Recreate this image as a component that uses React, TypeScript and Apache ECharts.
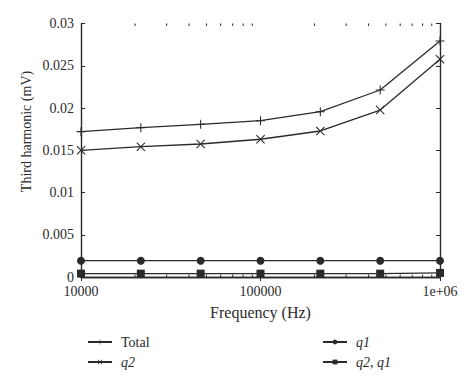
import React, { useEffect, useRef } from "react";
import * as echarts from "echarts";

const frequencies = [10000, 21544, 46416, 100000, 215443, 464159, 1000000];
const totalValues = [0.0172, 0.01767, 0.01807, 0.0185, 0.01956, 0.02213, 0.02793];
const q2Values = [0.01499, 0.01542, 0.01574, 0.0163, 0.01728, 0.01976, 0.02576];
const q1Values = [0.00193, 0.00193, 0.00193, 0.00193, 0.00193, 0.00193, 0.00193];
const q2q1Values = [0.0004, 0.0004, 0.0004, 0.0004, 0.0004, 0.0004, 0.00048];
const minorTickValues = [
  20000, 30000, 40000, 50000, 60000, 70000, 80000, 90000,
  200000, 300000, 400000, 500000, 600000, 700000, 800000, 900000,
];
const yTicks = { min: 0, max: 0.03, interval: 0.005 };
const xRange = { min: 10000, max: 1000000 };

const FONT = "'Liberation Serif', 'DejaVu Serif', serif";
const INK = "#2a2a2a";

const plusPath =
  "path://M4.4,0H5.6V4.4H10V5.6H5.6V10H4.4V5.6H0V4.4H4.4Z";
const crossPath =
  "path://M0,0.85L0.85,0L5,4.15L9.15,0L10,0.85L5.85,5L10,9.15L9.15,10L5,5.85L0.85,10L0,9.15L4.15,5Z";

const pair = (vals: number[]) => frequencies.map((f, i) => [f, vals[i]]);

export default function App() {
  const ref = useRef<HTMLDivElement>(null);
  useEffect(() => {
    if (!ref.current) return;
    const chart = echarts.init(ref.current, undefined, { renderer: "svg" });
    const lineSeries = (name: string, vals: number[], symbol: string, size: number) => ({
      name,
      type: "line",
      data: pair(vals),
      symbol,
      symbolSize: size,
      showAllSymbol: true,
      lineStyle: { color: INK, width: 1.3 },
      itemStyle: { color: INK },
      xAxisIndex: 0,
      yAxisIndex: 0,
      z: 3,
    });
    const legendBase = (name: string, left: number, top: number, italic: boolean) => ({
      data: [name],
      left,
      top,
      orient: "horizontal",
      itemWidth: 24,
      itemHeight: 6,
      selectedMode: false,
      textStyle: {
        fontFamily: FONT,
        fontSize: 14,
        color: INK,
        fontStyle: italic ? "italic" : "normal",
        padding: [0, 0, 0, 4],
      },
    });
    const axisLine = { show: true, lineStyle: { color: INK, width: 1.4 } };
    const tick = { show: true, inside: true, length: 4, lineStyle: { color: INK, width: 1 } };
    chart.setOption({
      animation: false,
      backgroundColor: "#fff",
      grid: { left: 81, right: 34, top: 23.5, bottom: 107, containLabel: false },
      xAxis: [
        {
          type: "log",
          logBase: 10,
          min: xRange.min,
          max: xRange.max,
          position: "bottom",
          axisLine,
          axisTick: tick,
          splitLine: { show: false },
          axisLabel: {
            margin: 7,
            fontFamily: FONT,
            fontSize: 14,
            color: INK,
            formatter: (v: number) => {
              const r = Math.round(v);
              return r === 1000000 ? "1e+06" : String(r);
            },
          },
          name: "Frequency (Hz)",
          nameLocation: "middle",
          nameGap: 27,
          nameTextStyle: { fontFamily: FONT, fontSize: 16, color: INK },
        },
        {
          type: "log",
          logBase: 10,
          min: xRange.min,
          max: xRange.max,
          position: "top",
          axisLine,
          axisTick: tick,
          splitLine: { show: false },
          axisLabel: { show: false },
        },
      ],
      yAxis: [
        {
          type: "value",
          min: yTicks.min,
          max: yTicks.max,
          interval: yTicks.interval,
          position: "left",
          axisLine,
          axisTick: tick,
          splitLine: { show: false },
          axisLabel: { margin: 7, fontFamily: FONT, fontSize: 14, color: INK },
        },
        {
          type: "value",
          min: yTicks.min,
          max: yTicks.max,
          interval: yTicks.interval,
          position: "right",
          axisLine,
          axisTick: tick,
          splitLine: { show: false },
          axisLabel: { show: false },
        },
      ],
      legend: [
        legendBase("Total", 82, 330, false),
        legendBase("q2", 82, 350, true),
        legendBase("q1", 317, 330, true),
        legendBase("q2, q1", 317, 350, true),
      ],
      graphic: [
        {
          type: "text",
          x: 26,
          y: 131.5,
          rotation: Math.PI / 2,
          style: {
            text: "Third harmonic (mV)",
            fontFamily: FONT,
            fontSize: 14,
            fill: INK,
            align: "center",
            verticalAlign: "middle",
          },
        },
      ],
      series: [
        lineSeries("Total", totalValues, plusPath, 9),
        lineSeries("q2", q2Values, crossPath, 9),
        lineSeries("q1", q1Values, "circle", 8),
        lineSeries("q2, q1", q2q1Values, "rect", 8),
        {
          name: "minor ticks",
          type: "custom",
          xAxisIndex: 0,
          yAxisIndex: 0,
          silent: true,
          data: minorTickValues.map((v) => [v]),
          renderItem: (params: any, api: any) => {
            const v = api.value(0);
            const b = api.coord([v, yTicks.min]);
            const t = api.coord([v, yTicks.max]);
            const st = { stroke: INK, lineWidth: 1 };
            return {
              type: "group",
              children: [
                { type: "line", shape: { x1: b[0], y1: b[1], x2: b[0], y2: b[1] - 2.5 }, style: st },
                { type: "line", shape: { x1: t[0], y1: t[1], x2: t[0], y2: t[1] + 2.5 }, style: st },
              ],
            };
          },
        },
      ],
    });
    return () => chart.dispose();
  }, []);
  return <div ref={ref} style={{ width: 474, height: 384, position: "absolute", left: 0, top: 0 }} />;
}
